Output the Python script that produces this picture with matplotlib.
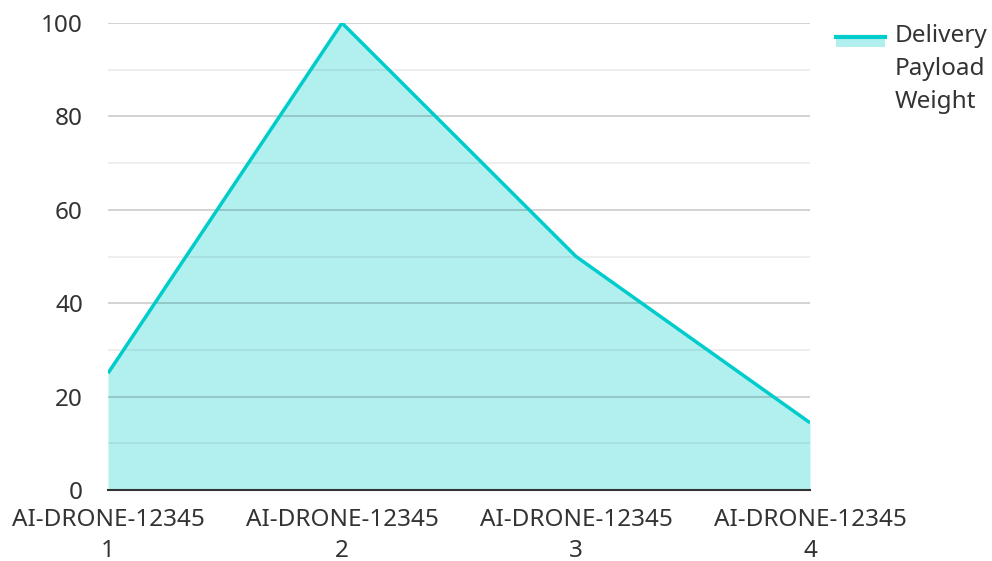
import matplotlib.pyplot as plt
from matplotlib.lines import Line2D
from matplotlib.patches import Rectangle

plt.rcParams['font.family'] = ['Noto Sans', 'DejaVu Sans']

drones = ['AI-DRONE-12345\n1', 'AI-DRONE-12345\n2', 'AI-DRONE-12345\n3', 'AI-DRONE-12345\n4']
payload = [25, 100, 50, 14.4]
series_name = 'Delivery\nPayload\nWeight'

line_color = '#00cccc'
fill_color = '#b2f0f0'
text_color = '#333333'

W, H = 992, 561
fig = plt.figure(figsize=(W / 100, H / 100), dpi=100)
ax = fig.add_axes([108 / W, 1 - 490 / H, 702 / W, 467 / H])

x = list(range(len(drones)))
ax.fill_between(x, payload, 0, color=fill_color, lw=0, zorder=1)
ax.plot(x, payload, color=line_color, lw=2.5, zorder=3, solid_capstyle='butt')

ax.set_xlim(0, len(drones) - 1)
ax.set_ylim(0, 100)
ax.set_xticks(x)
ax.set_xticklabels(drones, fontsize=17.5, color=text_color, linespacing=1.4)
ax.set_yticks(range(0, 101, 20))
ax.set_yticks(range(10, 100, 20), minor=True)
ax.tick_params(axis='y', which='both', length=0, pad=18, labelsize=17.5, labelcolor=text_color)
ax.tick_params(axis='x', length=0, pad=13)

ax.grid(axis='y', which='major', color='#000000', alpha=0.2, lw=1.2, zorder=2)
ax.grid(axis='y', which='minor', color='#000000', alpha=0.08, lw=1.2, zorder=2)
ax.set_axisbelow(False)

for side in ['top', 'right', 'left']:
    ax.spines[side].set_visible(False)
ax.spines['bottom'].set_color(text_color)
ax.spines['bottom'].set_linewidth(1.5)
ax.spines['bottom'].set_zorder(4)

# legend key: fill swatch with the line along its top edge
fig.patches.append(Rectangle((836 / W, 1 - 47 / H), 49 / W, 10 / H,
                             transform=fig.transFigure, facecolor=fill_color, edgecolor='none'))
fig.lines.append(Line2D([836 / W, 885 / W], [1 - 37 / H, 1 - 37 / H],
                        transform=fig.transFigure, color=line_color, lw=3))
fig.text(895 / W, 1 - 24 / H, series_name, fontsize=17.5, color=text_color,
         va='top', ha='left', linespacing=1.5)

fig.savefig('out.png', dpi=100)
